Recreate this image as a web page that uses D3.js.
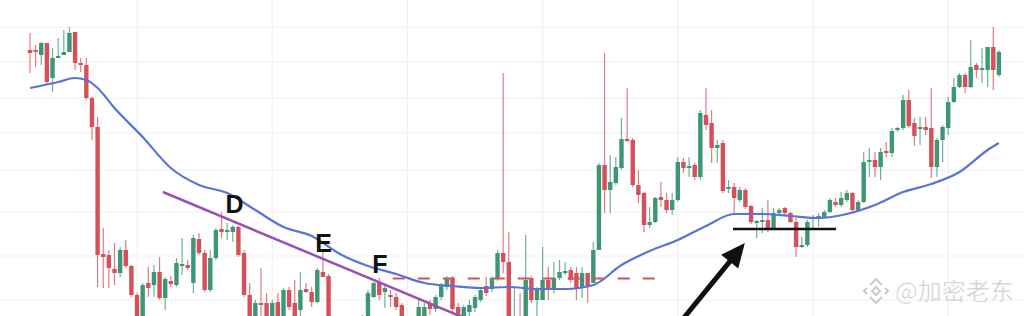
<!DOCTYPE html>
<html>
<head>
<meta charset="utf-8">
<script src="https://cdnjs.cloudflare.com/ajax/libs/d3/7.8.5/d3.min.js"></script>
<style>
	html, body { margin: 0; padding: 0; background: #fff; }
	svg { display: block; }
</style>
</head>
<body>
<div id="chart"></div>
<script>
// Candles: [open, high, low, close]
const candles = [
	[266,283,243,263],[266,271,249,264],[261,274,251,273],[273,273,232,234],[238,268,224,258],
	[258,278,258,260],[261,286,261,264],[264,289,264,283],[284,284,246,253],[253,258,244,251],
	[251,258,216,218],[218,219,176,189],[189,199,29,61],[62,88,28,59],[61,66,28,48],
	[47,73,31,43],[43,69,39,66],[66,76,48,50],[50,51,19,21],[21,23,-19,-14],
	[-2,33,-6,31],[33,49,19,28],[31,51,19,44],[44,59,16,18],[18,39,6,37],
	[35,40,29,32],[31,58,29,53],[50,78,41,52],[51,56,46,48],[33,81,23,78],
	[77,83,61,63],[63,66,24,26],[26,66,24,58],[58,88,56,86],[87,104,78,84],
	[84,93,76,86],[84,91,74,89],[89,90,59,61],[63,66,19,21],[21,33,-2,0],
	[-4,16,-9,13],[13,48,-2,11],[13,23,-9,-4],[-4,16,-9,13],[14,23,-9,-4],
	[-4,28,-9,26],[26,29,6,9],[13,36,-9,-4],[6,44,-1,26],[27,33,23,24],
	[24,29,9,14],[14,48,13,46],[44,66,39,39],[40,42,-19,-14],[-14,-12,-34,-29],
	[-29,-14,-34,-19],[-19,-16,-38,-34],[-34,-13,-38,-16],[-19,-6,-22,-9],[-12,1,-15,-2],
	[-4,26,-9,23],[19,34,18,33],[34,38,16,21],[24,30,8,28],[21,26,9,19],
	[19,23,6,9],[11,13,-9,-4],[-2,0,-18,-14],[-12,0,-16,-2],[-4,16,-9,9],
	[-4,13,-9,9],[13,16,1,7],[7,21,4,19],[19,33,16,31],[29,40,26,38],
	[38,40,4,7],[9,13,-9,-4],[-4,11,-9,9],[4,16,-2,11],[8,21,4,19],
	[16,28,14,26],[30,39,20,23],[27,40,24,38],[37,66,35,63],[63,243,43,54],
	[54,84,-19,-14],[-14,29,-19,-2],[-2,23,-19,-14],[-4,81,-9,36],[38,40,13,16],
	[16,29,0,28],[16,69,16,36],[36,49,16,26],[26,54,23,38],[38,56,36,44],
	[43,54,41,45],[46,49,33,36],[43,49,16,28],[28,49,18,43],[43,43,13,29],
	[33,74,33,66],[66,153,66,151],[151,263,103,126],[126,161,103,134],[133,159,131,149],
	[148,198,146,177],[177,228,174,175],[176,178,129,131],[131,146,113,121],[123,124,84,91],
	[91,109,88,94],[94,119,93,118],[119,134,109,116],[116,123,103,106],[106,123,101,116],
	[116,159,114,154],[154,158,143,148],[148,159,139,150],[151,153,136,139],[139,206,136,203],
	[201,228,186,191],[193,206,153,168],[168,176,153,171],[173,176,123,125],[127,136,123,129],
	[129,133,103,118],[116,129,114,126],[126,128,107,109],[110,111,92,94],[93,96,78,95],
	[94,108,83,96],[96,116,84,88],[88,108,86,103],[103,108,101,106],[108,109,101,103],
	[103,104,93,94],[94,98,59,69],[69,79,68,71],[71,96,69,94],[98,101,88,99],
	[99,103,89,100],[99,106,98,104],[104,118,103,116],[114,118,109,111],[111,124,109,118],
	[116,126,114,123],[123,124,104,106],[106,116,104,114],[114,164,113,154],[154,168,139,156],
	[156,164,139,149],[149,168,136,164],[165,174,159,163],[163,188,159,185],[186,189,184,188],
	[188,221,186,216],[216,226,188,190],[193,198,170,180],[187,199,171,189],[189,199,181,186],
	[188,228,138,149],[149,178,139,176],[176,191,154,189],[188,219,181,214],[214,238,213,229],
	[229,243,228,241],[241,243,223,229],[229,276,228,249],[251,253,238,246],[246,268,233,248],
	[246,269,229,269],[269,289,226,246],[241,266,239,264]
];

// Moving average, read at these candle positions
const maIndex = [0, 5, 8, 10, 12, 15, 20, 25, 30, 35, 40, 45, 50, 55, 60, 65, 70, 75, 80, 85,
	90, 95, 100, 105, 110, 115, 120, 125, 130, 135, 140, 145, 150, 155, 160, 165, 170, 172];
const maValues = [228, 234, 238, 236, 228, 208, 179, 148, 131, 123, 106, 89, 80, 62, 50, 42, 33, 30, 28, 29,
	27, 27, 31, 51, 65, 76, 90, 102, 102, 100, 98, 102, 111, 124, 132, 144, 166, 173];

// Grid
const gridIndex = [19, 43, 67, 91, 115, 139, 163];
const gridValues = [289, 254, 218, 183, 146, 104, 60, 16];

// Drawings
const trendIndex = [23.6, 78];
const trendValues = [124, -4];
const supportIndex = [64.4, 112.2];
const supportValue = 37.5;
const retestIndex = [124.8, 143.1];
const retestValue = 87;
const arrowIndex = [115.9, 126.9];
const arrowValues = [-3, 73];
const labelNames = ['D', 'E', 'F'];
const labelIndex = [36.3, 52.1, 62.1];
const labelValues = [103, 64, 43];
const watermark = '@加密老东';

const width = 1024;
const height = 316;
const green = '#3f9676';
const red = '#d4505a';

const xScale = d3.scaleLinear().domain([0, candles.length - 1]).range([30, 998.9]);
const yScale = d3.scaleLinear().domain([0, 316]).range([height, 0]);

const svg = d3.select('#chart')
	.append('svg')
	.attr('width', width)
	.attr('height', height);

svg.append('rect').attr('width', width).attr('height', height).attr('fill', '#fff');

// grid lines
svg.append('g').selectAll('line')
	.data(gridValues)
	.enter().append('line')
		.attr('x1', 0).attr('x2', width)
		.attr('y1', (d) => yScale(d)).attr('y2', (d) => yScale(d))
		.attr('stroke', '#f1f1f1').attr('stroke-width', 1);

svg.append('g').selectAll('line')
	.data(gridIndex)
	.enter().append('line')
		.attr('x1', (d) => xScale(d)).attr('x2', (d) => xScale(d))
		.attr('y1', 0).attr('y2', height)
		.attr('stroke', '#eeeeee').attr('stroke-width', 1);

// candles
const bodyWidth = 4.4;
const candle = svg.append('g').selectAll('g')
	.data(candles)
	.enter().append('g');

candle.append('line')
	.attr('x1', (d, i) => xScale(i)).attr('x2', (d, i) => xScale(i))
	.attr('y1', (d) => yScale(d[1])).attr('y2', (d) => yScale(d[2]))
	.attr('stroke', (d) => d[3] >= d[0] ? green : red)
	.attr('stroke-opacity', 0.75)
	.attr('stroke-width', 1.2);

candle.append('rect')
	.attr('x', (d, i) => xScale(i) - bodyWidth / 2)
	.attr('y', (d) => yScale(Math.max(d[0], d[3])))
	.attr('width', bodyWidth)
	.attr('height', (d) => Math.max(1.8, Math.abs(yScale(d[0]) - yScale(d[3]))))
	.attr('fill', (d) => d[3] >= d[0] ? green : red);

// moving average
const maLine = d3.line()
	.x((d) => xScale(d[0]))
	.y((d) => yScale(d[1]))
	.curve(d3.curveMonotoneX);

svg.append('path')
	.datum(maIndex.map((d, i) => [d, maValues[i]]))
	.attr('d', maLine)
	.attr('fill', 'none')
	.attr('stroke', '#5a73d8')
	.attr('stroke-width', 2.2);

// trendline
svg.append('line')
	.attr('x1', xScale(trendIndex[0])).attr('y1', yScale(trendValues[0]))
	.attr('x2', xScale(trendIndex[1])).attr('y2', yScale(trendValues[1]))
	.attr('stroke', '#9a4fb2')
	.attr('stroke-width', 2.5);

// dashed level
svg.append('line')
	.attr('x1', xScale(supportIndex[0])).attr('x2', xScale(supportIndex[1]))
	.attr('y1', yScale(supportValue)).attr('y2', yScale(supportValue))
	.attr('stroke', '#d9505a')
	.attr('stroke-width', 2)
	.attr('stroke-dasharray', '12,13');

// retest level
svg.append('line')
	.attr('x1', xScale(retestIndex[0])).attr('x2', xScale(retestIndex[1]))
	.attr('y1', yScale(retestValue)).attr('y2', yScale(retestValue))
	.attr('stroke', '#111')
	.attr('stroke-width', 2.5);

// labels
svg.append('g').selectAll('text')
	.data(labelNames)
	.enter().append('text')
		.attr('x', (d, i) => xScale(labelIndex[i]))
		.attr('y', (d, i) => yScale(labelValues[i]))
		.attr('text-anchor', 'middle')
		.attr('font-family', 'Liberation Sans, Arial, sans-serif')
		.attr('font-weight', 'bold')
		.attr('font-size', 25)
		.attr('fill', '#111')
		.text((d) => d);

// arrow
const ax0 = xScale(arrowIndex[0]), ay0 = yScale(arrowValues[0]);
const ax1 = xScale(arrowIndex[1]), ay1 = yScale(arrowValues[1]);
const len = Math.hypot(ax1 - ax0, ay1 - ay0);
const ux = (ax1 - ax0) / len, uy = (ay1 - ay0) / len;
const headLen = 24, headHalf = 11;
const bx = ax1 - ux * headLen, by = ay1 - uy * headLen;

svg.append('line')
	.attr('x1', ax0).attr('y1', ay0)
	.attr('x2', bx + ux * 2).attr('y2', by + uy * 2)
	.attr('stroke', '#111')
	.attr('stroke-width', 5);

svg.append('path')
	.attr('d', `M${ax1},${ay1} L${bx - uy * headHalf},${by + ux * headHalf} L${bx + uy * headHalf},${by - ux * headHalf} Z`)
	.attr('fill', '#111');

// watermark
const wm = svg.append('g').attr('opacity', 0.85);
const icon = wm.append('g').attr('transform', 'translate(876,291)')
	.attr('fill', 'none').attr('stroke', '#c4c4c4').attr('stroke-width', 2.2);
icon.append('path').attr('d', 'M0,-4 L4,0 L0,4 L-4,0 Z');
icon.append('path').attr('d', 'M-6,-6 L0,-12 L6,-6');
icon.append('path').attr('d', 'M-6,6 L0,12 L6,6');
icon.append('path').attr('d', 'M-9,-3 L-12,0 L-9,3');
icon.append('path').attr('d', 'M9,-3 L12,0 L9,3');

wm.append('text')
	.attr('x', 895)
	.attr('y', 300)
	.attr('font-family', 'Noto Sans CJK SC, sans-serif')
	.attr('font-size', 24)
	.attr('fill', '#bdbdbd')
	.attr('stroke', '#ffffff')
	.attr('stroke-width', 0.6)
	.text(watermark);
</script>
</body>
</html>
